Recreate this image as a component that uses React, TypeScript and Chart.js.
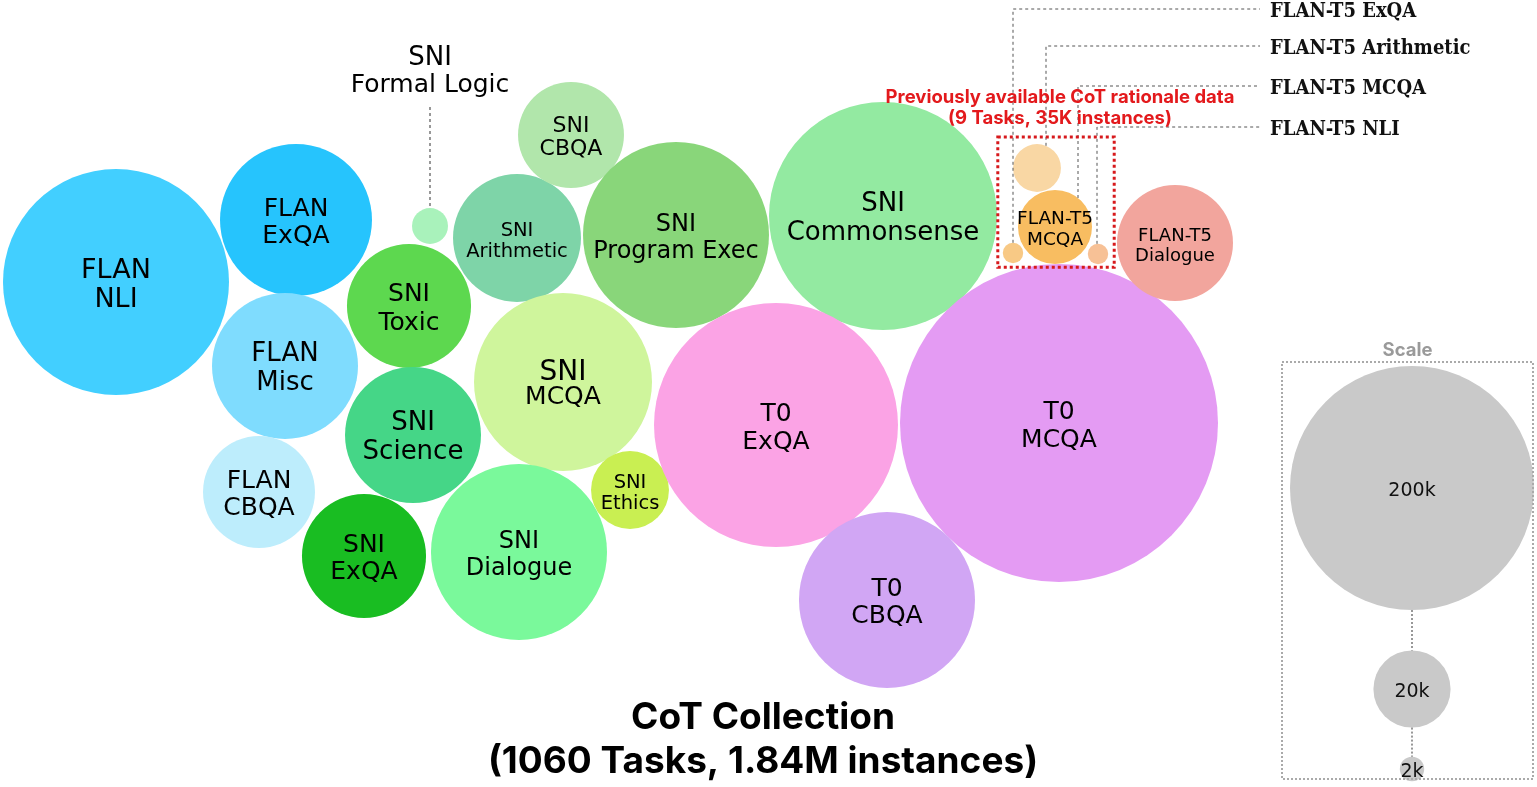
import { useEffect, useRef } from "react";
import { Chart, registerables, BubbleController } from "chart.js";

Chart.register(...registerables);

// Bubble controller that does not pad the chart area by the largest radius,
// so the layout scale maps 1:1 onto the canvas.
class PackedBubbleController extends BubbleController {
  static id = "packedBubble";
  static defaults = { ...(BubbleController as any).defaults };
  static overrides = (BubbleController as any).overrides;
  getMaxOverflow() {
    return 0 as any;
  }
}
Chart.register(PackedBubbleController as any);

// ---------------- DATA ----------------
const taskNames = [
  "FLAN NLI", "FLAN ExQA", "FLAN Misc", "FLAN CBQA",
  "SNI Formal Logic", "SNI Toxic", "SNI Science", "SNI ExQA",
  "SNI Arithmetic", "SNI CBQA", "SNI MCQA", "SNI Dialogue",
  "SNI Ethics", "SNI Program Exec", "SNI Commonsense",
  "T0 ExQA", "T0 MCQA", "T0 CBQA",
  "FLAN-T5 Dialogue", "FLAN-T5 MCQA", "FLAN-T5 Arithmetic", "FLAN-T5 ExQA", "FLAN-T5 NLI",
];
// instances per task group, in thousands
const instancesK = [
  171.6, 77.6, 71.6, 42.1,
  4.35, 51.7, 62.1, 51.7,
  55.0, 37.7, 106.4, 104.1,
  20.4, 116.2, 174.6,
  200.0, 339.7, 104.1,
  45.2, 18.4, 7.7, 1.4, 1.4,
];
// packed-bubble layout coordinates
const layoutX = [
  116, 296, 285, 259,
  430, 409, 413, 364,
  517, 571, 563, 519,
  630, 676, 883,
  776, 1059, 887,
  1175, 1055, 1037, 1013, 1098,
];
const layoutY = [
  282, 220, 366, 492,
  226, 306, 435, 556,
  238, 135, 382, 552,
  490, 235, 216,
  425, 423, 600,
  243, 227, 168, 253, 254,
];
const bubbleColors = [
  "#42cfff", "#26c4fd", "#7fdcfe", "#bdedfc",
  "#a9f2bb", "#5dd84f", "#45d687", "#19bd22",
  "#7ed4a8", "#b1e6ab", "#cff59c", "#7af99b",
  "#c9ef52", "#89d67a", "#93eaa1",
  "#fba3e5", "#e49bf3", "#d1a6f4",
  "#f2a59d", "#f8bd61", "#f9d7a4", "#f8c985", "#f7c196",
];

const scaleLabels = ["200k", "20k", "2k"];
const scaleInstancesK = [200, 20, 2];
const scaleLayoutX = [1412, 1412, 1412];
const scaleLayoutY = [488, 689, 769];

const calloutTasks = ["FLAN-T5 ExQA", "FLAN-T5 Arithmetic", "FLAN-T5 MCQA", "FLAN-T5 NLI"];
const previousGroup = ["FLAN-T5 MCQA", "FLAN-T5 Arithmetic", "FLAN-T5 ExQA", "FLAN-T5 NLI"];

const titleLines = ["CoT Collection", "(1060 Tasks, 1.84M instances)"];
const previousLines = ["Previously available CoT rationale data", "(9 Tasks, 35K instances)"];

// ---------------- STYLE / LAYOUT ----------------
const REF_K = 200;
const REF_R = 122;
const radiusOf = (k: number) => REF_R * Math.sqrt(k / REF_K);

// [first line px, second line px, line gap px]
const labelStyle: Record<string, [number, number, number]> = {
  "FLAN NLI": [27, 27, 29],
  "FLAN ExQA": [25, 25, 27],
  "FLAN Misc": [26, 26, 29],
  "FLAN CBQA": [25, 25, 27],
  "SNI Toxic": [25, 25, 29],
  "SNI Science": [26, 26, 29],
  "SNI ExQA": [25, 25, 27],
  "SNI Arithmetic": [19.5, 19.5, 21],
  "SNI CBQA": [22, 22, 23],
  "SNI MCQA": [28, 25, 24],
  "SNI Dialogue": [24, 24, 27],
  "SNI Ethics": [19.5, 19.5, 21],
  "SNI Program Exec": [24, 24, 27],
  "SNI Commonsense": [26, 26, 29],
  "T0 ExQA": [25, 25, 28],
  "T0 MCQA": [25, 25, 28],
  "T0 CBQA": [25, 25, 27],
  "FLAN-T5 Dialogue": [18, 18, 20],
  "FLAN-T5 MCQA": [18.5, 18.5, 21],
};
const LABEL_DY = 3;

const calloutLayout: Record<string, { dx: number; y: number }> = {
  "FLAN-T5 ExQA": { dx: 0, y: 9 },
  "FLAN-T5 Arithmetic": { dx: 9, y: 46 },
  "FLAN-T5 MCQA": { dx: 23, y: 86 },
  "FLAN-T5 NLI": { dx: -1, y: 127 },
};

const SANS = "'DejaVu Sans', sans-serif";
const INTER = "Inter, 'Noto Sans', sans-serif";
const SERIF = "'DejaVu Serif Condensed', 'DejaVu Serif', serif";

function splitLabel(name: string): string[] {
  const i = name.indexOf(" ");
  return i < 0 ? [name] : [name.slice(0, i), name.slice(i + 1)];
}

const annotationPlugin = {
  id: "cotAnnotations",
  afterDatasetsDraw(chart: any) {
    const ctx: CanvasRenderingContext2D = chart.ctx;
    const meta = chart.getDatasetMeta(0);
    const scaleMeta = chart.getDatasetMeta(1);
    const xs = chart.scales.x;
    const ys = chart.scales.y;
    const el = (name: string) => {
      const i = taskNames.indexOf(name);
      const e = meta.data[i];
      return { x: e.x, y: e.y, r: e.options.radius };
    };
    ctx.save();

    // in-bubble labels
    ctx.fillStyle = "#000";
    ctx.textAlign = "center";
    ctx.textBaseline = "middle";
    taskNames.forEach((name) => {
      const st = labelStyle[name];
      if (!st) return;
      const p = el(name);
      const lines = splitLabel(name);
      const [s1, s2, gap] = st;
      const y0 = p.y - gap / 2 + LABEL_DY;
      ctx.font = `${s1}px ${SANS}`;
      ctx.fillText(lines[0], p.x, y0);
      ctx.font = `${s2}px ${SANS}`;
      ctx.fillText(lines[1], p.x, y0 + gap);
    });

    // SNI Formal Logic external label
    {
      const p = el("SNI Formal Logic");
      ctx.strokeStyle = "#333";
      ctx.lineWidth = 1;
      ctx.setLineDash([3, 3]);
      ctx.beginPath();
      ctx.moveTo(p.x, ys.getPixelForValue(107));
      ctx.lineTo(p.x, p.y - p.r);
      ctx.stroke();
      ctx.setLineDash([]);
      const lines = splitLabel("SNI Formal Logic");
      ctx.font = `26px ${SANS}`;
      ctx.fillText(lines[0], p.x, ys.getPixelForValue(55) + LABEL_DY);
      ctx.font = `25px ${SANS}`;
      ctx.fillText(lines[1], p.x, ys.getPixelForValue(82) + LABEL_DY);
    }

    // FLAN-T5 callouts
    const lineEndX = xs.getPixelForValue(1260);
    calloutTasks.forEach((name) => {
      const p = el(name);
      const c = calloutLayout[name];
      const lx = p.x + c.dx;
      const edge = p.y - Math.sqrt(Math.max(0, p.r * p.r - c.dx * c.dx));
      const ly = ys.getPixelForValue(c.y);
      ctx.strokeStyle = "#555";
      ctx.lineWidth = 1;
      ctx.setLineDash([3, 3]);
      ctx.beginPath();
      ctx.moveTo(lx, edge);
      ctx.lineTo(lx, ly);
      ctx.lineTo(lineEndX, ly);
      ctx.stroke();
      ctx.setLineDash([]);
      ctx.fillStyle = "#111";
      ctx.textAlign = "left";
      ctx.font = `bold 20px ${SERIF}`;
      ctx.fillText(name, xs.getPixelForValue(1270), ly + 3);
    });

    // red dotted box round previously available data
    {
      let minX = Infinity, minY = Infinity, maxX = -Infinity, maxY = -Infinity;
      previousGroup.forEach((n) => {
        const p = el(n);
        minX = Math.min(minX, p.x - p.r);
        maxX = Math.max(maxX, p.x + p.r);
        minY = Math.min(minY, p.y - p.r);
        maxY = Math.max(maxY, p.y + p.r);
      });
      const l = minX - 5, t = minY - 7, r = maxX + 6, b = maxY + 3;
      ctx.strokeStyle = "#d7191c";
      ctx.lineWidth = 3;
      ctx.setLineDash([3, 3]);
      ctx.strokeRect(l, t, r - l, b - t);
      ctx.setLineDash([]);
      ctx.fillStyle = "#e3191c";
      ctx.textAlign = "center";
      ctx.font = `bold 18.5px ${INTER}`;
      const cx = xs.getPixelForValue(1060);
      ctx.fillText(previousLines[0], cx, ys.getPixelForValue(96) + 1);
      ctx.fillText(previousLines[1], cx, ys.getPixelForValue(117) + 1);
    }

    // scale legend box
    {
      const l = xs.getPixelForValue(1282), r = xs.getPixelForValue(1533);
      const t = ys.getPixelForValue(362), b = ys.getPixelForValue(779);
      ctx.strokeStyle = "#aaa";
      ctx.lineWidth = 2;
      ctx.setLineDash([2, 2]);
      ctx.strokeRect(l, t, r - l, b - t);
      ctx.setLineDash([]);
      ctx.fillStyle = "#9a9a9a";
      ctx.textAlign = "center";
      ctx.font = `bold 18.5px ${INTER}`;
      ctx.fillText("Scale", (l + r) / 2, ys.getPixelForValue(349) + 1);
      // connectors
      ctx.strokeStyle = "#333";
      ctx.lineWidth = 1;
      ctx.setLineDash([2, 2]);
      for (let i = 0; i < scaleMeta.data.length - 1; i++) {
        const a = scaleMeta.data[i];
        const bb = scaleMeta.data[i + 1];
        ctx.beginPath();
        ctx.moveTo(a.x, a.y + a.options.radius);
        ctx.lineTo(bb.x, bb.y - bb.options.radius);
        ctx.stroke();
      }
      ctx.setLineDash([]);
      ctx.fillStyle = "#111";
      ctx.font = `19px ${SANS}`;
      scaleMeta.data.forEach((e: any, i: number) => {
        ctx.fillText(scaleLabels[i], e.x, e.y + LABEL_DY);
      });
    }

    // title
    ctx.fillStyle = "#000";
    ctx.textAlign = "center";
    ctx.font = `bold 37px ${INTER}`;
    const tx = xs.getPixelForValue(763);
    ctx.fillText(titleLines[0], tx, ys.getPixelForValue(716) + 2);
    ctx.fillText(titleLines[1], tx, ys.getPixelForValue(760) + 2);

    ctx.restore();
  },
};

export default function App() {
  const ref = useRef<HTMLCanvasElement | null>(null);
  useEffect(() => {
    if (!ref.current) return;
    const chart = new Chart(ref.current, {
      type: "packedBubble" as any,
      data: {
        datasets: [
          {
            label: "Tasks",
            data: taskNames.map((_, i) => ({ x: layoutX[i], y: layoutY[i], r: radiusOf(instancesK[i]) })),
            backgroundColor: bubbleColors,
            borderWidth: 0,
            hoverBorderWidth: 0,
            hoverRadius: 0,
            clip: false as any,
          },
          {
            label: "Scale",
            data: scaleLabels.map((_, i) => ({ x: scaleLayoutX[i], y: scaleLayoutY[i], r: radiusOf(scaleInstancesK[i]) })),
            backgroundColor: "#c9c9c9",
            borderWidth: 0,
            hoverBorderWidth: 0,
            hoverRadius: 0,
            clip: false as any,
          },
        ] as any,
      },
      options: {
        animation: false,
        responsive: true,
        maintainAspectRatio: false,
        events: [],
        layout: { padding: 0 },
        scales: {
          x: { type: "linear", min: 0, max: 1537, display: false },
          y: { type: "linear", min: 0, max: 787, reverse: true, display: false },
        },
        plugins: { legend: { display: false }, tooltip: { enabled: false } },
      } as any,
      plugins: [annotationPlugin],
    });
    return () => chart.destroy();
  }, []);
  return (
    <div style={{ position: "absolute", left: 0, top: 0, width: 1537, height: 787, background: "#fff" }}>
      <canvas ref={ref} />
    </div>
  );
}
